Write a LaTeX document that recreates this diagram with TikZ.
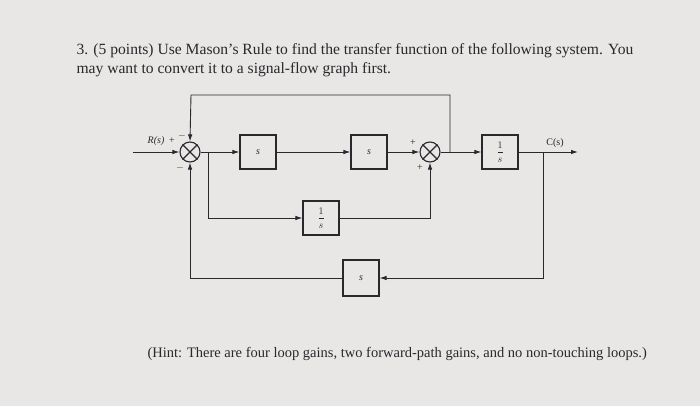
\documentclass[tikz,border=0pt]{standalone}
\usepackage{fontspec}
\setmainfont{Liberation Serif}
\usetikzlibrary{arrows.meta}
\definecolor{paper}{RGB}{232,231,229}
\definecolor{ink}{RGB}{40,40,45}
\begin{document}
\begin{tikzpicture}[x=1pt,y=-1pt,
  blk/.style={draw=ink,line width=1.1pt,minimum width=36pt,minimum height=34pt,inner sep=0pt,font=\fontsize{10}{11}\selectfont\itshape,text=ink},
  sumj/.style={draw=ink,line width=1.1pt,circle,minimum size=20pt,inner sep=0pt},
  ln/.style={draw=ink,line width=0.9pt},
  ar/.style={ln,-{Latex[length=7pt,width=4.5pt]}},
  lab/.style={font=\fontsize{10}{11}\selectfont,text=ink,inner sep=1pt}]
\fill[paper] (0,0) rectangle (700,406);
\useasboundingbox (0,0) rectangle (700,406);
\node[anchor=west,text=ink,font=\fontsize{15.6}{19}\selectfont,align=left] (title) at (73,60)
 {3. (5 points) Use Mason's Rule to find the transfer function of the following system. You\\may want to convert it to a signal-flow graph first.};
\node[anchor=west,text=ink,font=\fontsize{14.5}{17}\selectfont] (hint) at (144,354)
 {(Hint: There are four loop gains, two forward-path gains, and no non-touching loops.)};
% summers
\node[sumj] (s1) at (190,152) {};
\draw[ink,line width=1.1pt] (s1.north west) -- (s1.south east) (s1.north east) -- (s1.south west);
\node[sumj] (s2) at (430,152) {};
\draw[ink,line width=1.1pt] (s2.north west) -- (s2.south east) (s2.north east) -- (s2.south west);
% blocks
\node[blk] (b1) at (258,152) {s};
\node[blk] (b2) at (369,152) {s};
\node[blk] (b3) at (500,152) {$\displaystyle\frac{1}{s}$};
\node[blk] (b4) at (321,218) {$\displaystyle\frac{1}{s}$};
\node[blk,minimum height=36pt] (b5) at (361,278) {s};
% coordinates
\coordinate (in) at (133,152);
\coordinate (out) at (578,152);
\coordinate (t1) at (450,152);
\coordinate (t2) at (208,152);
\coordinate (t3) at (543,152);
% main path
\draw[ar] (in) -- (s1.west);
\draw[ar] (s1.east) -- (b1.west);
\draw[ar] (b1.east) -- (b2.west);
\draw[ar] (b2.east) -- (s2.west);
\draw[ar] (s2.east) -- (b3.west);
\draw[ar] (b3.east) -- (out);
% top feedback
\draw[ar] (t1) |- (191,95) -- (s1.north);
% middle feedforward
\draw[ar] (t2) |- (b4.west);
\draw[ar] (b4.east) -| (s2.south);
% bottom feedback
\draw[ar] (t3) |- (b5.east);
\draw[ar] (b5.west) -| (s1.south);
% labels
\node[lab,font=\fontsize{10}{11}\selectfont\itshape] (R) at (156,141) {R(s)};
\node[lab] (p1) at (172,141) {+};
\node[lab] (m1) at (182,136) {$-$};
\node[lab] (m2) at (180,168) {$-$};
\node[lab] (p2) at (413,143) {+};
\node[lab] (p3) at (420,168) {+};
\node[lab] (C) at (555,143) {C(s)};
\end{tikzpicture}
\end{document}
